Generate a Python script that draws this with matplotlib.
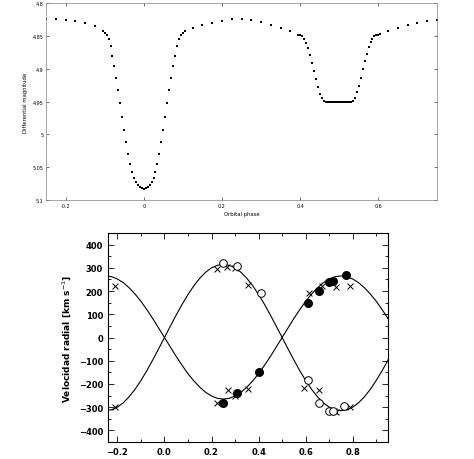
import numpy as np
import matplotlib.pyplot as plt

# ---------------- light curve (top) ----------------
ph_out = [-0.25, -0.225, -0.2, -0.175, -0.15, -0.125, -0.105,
          0.105, 0.125, 0.15, 0.175, 0.2, 0.225, 0.25, 0.275, 0.3, 0.325, 0.35, 0.375, 0.395,
          0.605, 0.625, 0.65, 0.675, 0.7, 0.725, 0.75]
mag_out = [4.825, 4.825, 4.826, 4.828, 4.831, 4.835, 4.842,
           4.842, 4.838, 4.834, 4.83, 4.827, 4.825, 4.825, 4.826, 4.829, 4.833, 4.838, 4.843, 4.848,
           4.847, 4.843, 4.838, 4.834, 4.83, 4.827, 4.826]

ph_prim = [-0.1, -0.095, -0.09, -0.085, -0.08, -0.075, -0.07, -0.065, -0.06, -0.055, -0.05,
           -0.045, -0.04, -0.035, -0.03, -0.025, -0.02, -0.015, -0.01, -0.005, 0.0,
           0.005, 0.01, 0.015, 0.02, 0.025, 0.03, 0.035, 0.04, 0.045, 0.05,
           0.055, 0.06, 0.065, 0.07, 0.075, 0.08, 0.085, 0.09, 0.095, 0.1]
mag_prim = [4.845, 4.848, 4.855, 4.866, 4.88, 4.896, 4.914, 4.933, 4.953, 4.973, 4.993,
            5.012, 5.03, 5.045, 5.058, 5.067, 5.073, 5.077, 5.08, 5.082, 5.083,
            5.082, 5.08, 5.077, 5.073, 5.067, 5.058, 5.045, 5.03, 5.012, 4.993,
            4.973, 4.953, 4.933, 4.914, 4.896, 4.88, 4.866, 4.855, 4.848, 4.845]

ph_sec = [0.4, 0.405, 0.41, 0.415, 0.42, 0.425, 0.43, 0.435, 0.44, 0.445, 0.45,
          0.455, 0.46, 0.465, 0.47, 0.475, 0.48, 0.485, 0.49, 0.495, 0.5,
          0.505, 0.51, 0.515, 0.52, 0.525, 0.53, 0.535, 0.54, 0.545, 0.55,
          0.555, 0.56, 0.565, 0.57, 0.575, 0.58, 0.585, 0.59, 0.595, 0.6]
mag_sec = [4.849, 4.851, 4.855, 4.861, 4.869, 4.879, 4.891, 4.903, 4.916, 4.928, 4.938,
           4.945, 4.949, 4.95, 4.951, 4.951, 4.951, 4.95, 4.951, 4.95, 4.95,
           4.951, 4.95, 4.951, 4.951, 4.95, 4.951, 4.949, 4.944, 4.936, 4.926,
           4.914, 4.901, 4.889, 4.877, 4.867, 4.86, 4.855, 4.851, 4.849, 4.848]

# ---------------- radial velocities (bottom) ----------------
ph_model = [-0.25, -0.225, -0.2, -0.175, -0.15, -0.125, -0.1, -0.075, -0.05, -0.025, 0.0,
            0.025, 0.05, 0.075, 0.1, 0.125, 0.15, 0.175, 0.2, 0.225, 0.25,
            0.275, 0.3, 0.325, 0.35, 0.375, 0.4, 0.425, 0.45, 0.475, 0.5,
            0.525, 0.55, 0.575, 0.6, 0.625, 0.65, 0.675, 0.7, 0.725, 0.75,
            0.775, 0.8, 0.825, 0.85, 0.875, 0.9, 0.925, 0.95, 0.975]
v1_model = [265, 262, 252, 236, 214, 187, 156, 120, 82, 41, 0,
            -41, -82, -120, -156, -187, -214, -236, -252, -262, -265,
            -262, -252, -236, -214, -187, -156, -120, -82, -41, 0,
            41, 82, 120, 156, 187, 214, 236, 252, 262, 265,
            262, 252, 236, 214, 187, 156, 120, 82, 41]
v2_model = [-315, -311, -300, -281, -255, -223, -185, -143, -97, -49, 0,
            49, 97, 143, 185, 223, 255, 281, 300, 311, 315,
            311, 300, 281, 255, 223, 185, 143, 97, 49, 0,
            -49, -97, -143, -185, -223, -255, -281, -300, -311, -315,
            -311, -300, -281, -255, -223, -185, -143, -97, -49]

ph_fill = [0.25, 0.31, 0.40, 0.61, 0.655, 0.70, 0.715, 0.77]
v_fill = [-280, -237, -148, 150, 202, 241, 244, 268]
ph_open = [0.25, 0.31, 0.41, 0.61, 0.655, 0.70, 0.715, 0.765]
v_open = [322, 308, 192, -183, -282, -318, -318, -294]
ph_x = [-0.21, -0.21, 0.225, 0.225, 0.265, 0.27, 0.30, 0.30, 0.355, 0.355,
        0.595, 0.615, 0.655, 0.67, 0.72, 0.73, 0.73, 0.79, 0.79]
v_x = [222, -300, -283, 295, 305, -228, -252, 300, 228, -222,
       -218, 190, -226, 220, -318, -320, 218, 222, -300]

fig = plt.figure(figsize=(4.74, 4.6), dpi=100)

# top panel
ax1 = fig.add_axes([46/474, 1-201/460, 391/474, 197/460])
ax1.scatter(ph_out + ph_prim + ph_sec, mag_out + mag_prim + mag_sec, s=3.5, color='k', marker='s', linewidths=0)
ax1.set_xlim(-0.25, 0.75)
ax1.set_ylim(5.1, 4.8)
ax1.set_xticks([-0.2, 0, 0.2, 0.4, 0.6])
ax1.set_xticklabels(['-0.2', '0', '0.2', '0.4', '0.6'])
ax1.set_yticks([4.8, 4.85, 4.9, 4.95, 5.0, 5.05, 5.1])
ax1.set_yticklabels(['4.8', '4.85', '4.9', '4.95', '5', '5.05', '5.1'])
ax1.tick_params(direction='in', top=True, right=True, labelsize=3.5, length=2, width=0.4, pad=2)
ax1.set_xlabel('Orbital phase', fontsize=3.8, labelpad=2)
ax1.set_ylabel('Differential magnitude', fontsize=3.8, labelpad=3)
for sp in ax1.spines.values():
    sp.set_linewidth(0.5)
    sp.set_color('0.5')

# bottom panel
ax2 = fig.add_axes([108/474, 1-443/460, 280/474, 209/460])
ax2.plot(ph_model, v1_model, color='k', linewidth=0.8)
ax2.plot(ph_model, v2_model, color='k', linewidth=0.8)
ax2.scatter(ph_x, v_x, marker='x', s=18, color='k', linewidths=0.7, zorder=3)
ax2.scatter(ph_open, v_open, marker='o', s=30, facecolors='white', edgecolors='k', linewidths=0.7, zorder=4)
ax2.scatter(ph_fill, v_fill, marker='o', s=30, color='k', zorder=5)
ax2.set_xlim(-0.24, 0.95)
ax2.set_ylim(-450, 450)
ax2.set_xticks([-0.2, 0, 0.2, 0.4, 0.6, 0.8])
ax2.set_xticks(np.arange(-0.2, 0.95, 0.1), minor=True)
ax2.set_yticks(np.arange(-400, 401, 100))
ax2.set_yticks(np.arange(-400, 401, 50), minor=True)
ax2.tick_params(which='both', direction='in', top=True, right=True, labelsize=6, width=0.6)
ax2.tick_params(which='major', length=4)
ax2.tick_params(which='minor', length=2)
for lab in ax2.get_xticklabels() + ax2.get_yticklabels():
    lab.set_fontweight('bold')
ax2.set_xlabel('Fase Orbital', fontsize=6.5, fontweight='bold', labelpad=3)
ax2.set_ylabel('Velocidad radial [km s$^{-1}$]', fontsize=6.5, fontweight='bold')
for sp in ax2.spines.values():
    sp.set_linewidth(0.8)

fig.savefig('out.png', dpi=100)
